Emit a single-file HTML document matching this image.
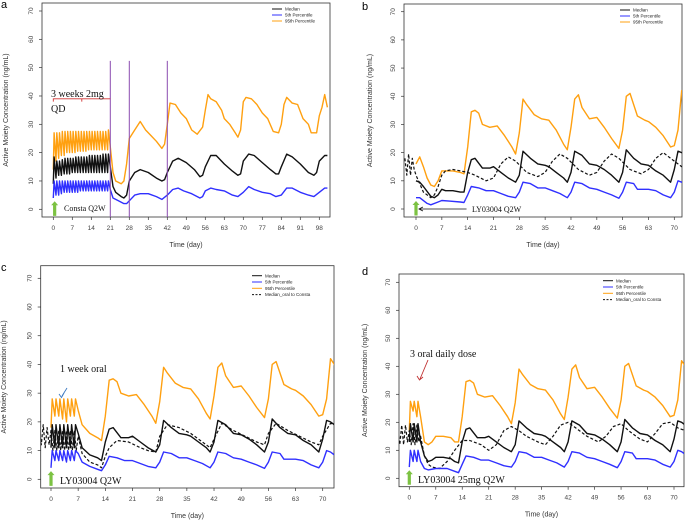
<!DOCTYPE html>
<html><head><meta charset="utf-8"><style>
body{margin:0;background:#fff;}
svg{display:block;font-family:"Liberation Sans",sans-serif;}
</style></head><body>
<svg id="fig" width="685" height="523" viewBox="0 0 685 523"></svg>
<script>
// ---------- DATA ----------
const aOrangePeak=[27,27,27,27.5,27.5,27.5,27.5,27.5,27.5,27.5,27.5,27.5,27.5,27.5,27.5,27.5,27.5,27.5,27.5,27.5,28];
const aOrangeTrough=[14,17,18,19,19,20,20,20,20,20.5,20.5,20.5,20.5,21,21,21,21,21,21,21,21];
const aBlackPeak=[18.5,17,17,17.5,18,18,18,18,18.5,18.5,18.5,18.5,18.5,19,19,19,19,19,19.5,19.5,19.5];
const aBlackTrough=[9,11,12,12,12.5,12.5,12.5,13,13,13,13,13,13,13,13,13,13,13,13,13,13];
const aBluePeak=[10,10,10,10,10,10,10,10,10,10,10,10,10,10,10,10,10,10,10,10,10];
const aBlueTrough=[4,5,5,5.5,6,6,6,6,6,6,6.5,6.5,6.5,6.5,6.5,6.5,6.5,6.5,6.5,6.5,6.5];
const aOrangeDays=[21,22,23,25,26,27,28,30,32,34,36,38,40,41,42,43,45,47,49,51,53,55,56,57,58,60,62,63,65,67,68,69,70,71,73,75,77,79,81,83,84,85,86,88,90,92,94,95,97,98,99,100,101];
const aOrangeVals=[22,13,10,9,10,16,25,28,31,28,26,24,21.5,23,30,37.5,37,34,32,28,26.5,29,35,40.5,39,38,35,32,30,27,25.5,28,38,39.5,39,37,34,32,27.5,27,30,37,39.5,37.5,37,32,30,27,27,33,36,40.5,36];
const aBlackDays=[21,22,23,25,26,27,28,30,32,35,38,40,41,42,44,46,49,52,54,55,56,58,60,63,66,68,69,70,72,74,77,80,82,83,84,86,88,91,94,96,97,98,100,101];
const aBlackVals=[15,8,6,4.5,4,5,10,13,14,13,11,10,10.5,13,17,18,16.5,14,11.5,12,15,19,19,16,13.5,12,12.5,17,19.5,19,16.5,14,12.5,12.5,15,19.5,18.5,16,13,12,13,17,19,19];
const aBlueDays=[21,22,24,26,27,28,30,32,35,38,40,42,44,46,48,51,54,55,56,58,60,63,66,68,70,72,74,77,80,82,84,86,88,91,94,96,98,100,101];
const aBlueVals=[7,4,3,2,2,3,5,5.5,5.5,4.5,3.5,5,7,7.5,6.5,5.5,4,4.5,6.5,7.5,7,6.5,5,4.5,6,8,7,6,5.5,4.5,5,7.5,7.5,6,5,4.5,6,7.5,7.5];
const aDoseLines=[21,28,42];

// LAI (day >= 14) common to panels b, c, d
const laiOrangeDays=[14,15,16,17,18,20,22,24,26,27,28,29,30,32,34,36,38,40,41,42,43,44,45,47,49,51,53,55,56,57,58,60,62,63,65,67,69,70,71,72,73,73.5];
const laiOrangeVals=[22,34.5,35,34,30,29,29.5,26,22,19.5,27,39,37,33.5,32,31.5,28,23,21,29,39,40.5,36,32,32.5,29,25,21.5,28,40,41,33,31.5,31,29,26,22,22.5,28,42,40,37.5];
const laiBlackDays=[14,15,16,18,20,21,23,25,27,28,29,31,33,35,36,38,40,41,42,43,45,47,49,51,53,55,56,57,59,61,63,65,67,69,70,71,72,73];
const laiBlackVals=[13,17.5,18,14.5,14.5,15,13,11,9.5,12,20.5,18,16,15.5,15,13,11,9.5,13,20.5,19,16,15.5,14,12,9.5,13,21,18,16,15.5,13.5,12,9.5,14,20.5,20,19];
const laiBlueDays=[14,15,17,19,21,23,25,27,28,29,31,33,35,37,39,41,42,43,45,47,49,51,53,55,56,57,59,60,63,65,67,69,70,71,72,73];
const laiBlueVals=[5,8,7.5,6.5,6.5,5.5,4.5,4,6,9.5,9,7.5,7.5,6.5,5.5,4,6,9.5,9,7.5,7,6,5,3.8,6,9.5,9,7,7,6.5,5,4,6,10,9.5,8.5];

// panel b early
const bOrangeDays=[0,1,2,3,4,5,6,7,8,10,12,13];
const bOrangeVals=[16,18.5,15,11,8.5,8,10,13.5,13.5,13.5,13,12.5];
const bBlackDays=[0,1,2,4,5,6,7,8,10,12,13];
const bBlackVals=[10,9.5,8,4.5,4,5,7,6.5,6.5,6,6];
const bBlueDays=[0,1,3,4,6,7,9,12,13];
const bBlueVals=[4,4,2,1.5,2.5,3,2.8,2.5,2.3];
const bDashDays=[-3,-2.5,-2,-1.5,-1,-0.5,0,2,4,5,6,7,8,10,12,14,16,19,21,23,25,27,30,33,35,37,39,41,44,47,49,51,53,55,58,61,63,65,67,69,72,73];
const bDashVals=[18,12,19.5,12,18,14,12,6,4,5,8,12,13.5,14,13.5,13,12,10,11,16,18.5,17,13,11.5,13,17,19.5,18,14,12,13,17,19.5,18,14,12.5,14,18,20,18,15,14];

// panel c early
const cOrangePeak=[28,28,28,28,28,28,28];
const cOrangeTrough=[18,22,22,21,20,22,22];
const cBlackPeak=[19,19,19,19,19,19,19];
const cBlackTrough=[11,11,11,11,11,11,11];
const cBluePeak=[10,10,10,10,10,10,10];
const cBlueTrough=[4,6.5,6.5,6.5,6,6.5,6.5];
const cOrangeDays=[7,8,10,12,13];
const cOrangeVals=[24,19,16,14.5,13.5];
const cBlackDays=[7,8,10,12,13];
const cBlackVals=[16,11,8.5,7.5,6.5];
const cBlueDays=[7,8,10,12,13];
const cBlueVals=[9,6,4.5,3.5,3];
const cDashDays=[-3,-2.5,-2,-1.5,-1,-0.5,0,0.5,1,1.5,2,2.5,3,3.5,4,4.5,5,5.5,6,6.5,7,8,10,12,13,14,15,17,20,23,25,27,28,30,33,36,39,41,42,44,47,50,53,55,56,58,61,64,67,69,70,72,73];
const cDashVals=[18,12,19,11,18,12,17,10,17,10,17,10,17,10,17,10,17,10,17,10,15,9,6,5,4,8,11,13.5,13,11,10,9.5,15,19,18,16,13,11,14,19.5,17,15,13,12,16,19.5,17,15,13,12,15,19.5,19];

// panel d early
const dOrangePeak=[27.5,27.5,27.5];
const dOrangeTrough=[17,24,22];
const dBlackPeak=[19.5,19.5,19.5];
const dBlackTrough=[13,13,13];
const dBluePeak=[10,10,10];
const dBlueTrough=[4,6,6];
const dOrangeDays=[3,4,5,6,7,9,11,12,13];
const dOrangeVals=[22,13,12,13,15,15,14.5,13,13];
const dBlackDays=[3,4,5,6,7,9,11,12,13];
const dBlackVals=[13,8,6,6.5,7.5,7.5,7,6,5.5];
const dBlueDays=[3,4,5,7,10,12,13];
const dBlueVals=[6,3.5,3,3.5,3.5,2.5,2];
const dDashDays=[-3,-2.5,-2,-1.5,-1,-0.5,0,0.5,1,1.5,2,2.5,3,4,5,6,8,10,12,14,16,19,21,23,25,27,29,31,34,36,38,40,42,44,47,50,52,54,56,58,61,63,65,67,69,71,73];
const dDashVals=[17,12,19,12,19,13,17,12,19.5,12,19,13,15,8,5,4,3.5,6,10,13.5,13.5,12,10,12,17,18.5,17,15,13,12,15,19,20,18,15,13,15,18.5,19.5,17,14,13,16,19.5,20,18,17];

const yTicks=[0,10,20,30,40,50,60,70];
const aXTicks=[0,7,14,21,28,35,42,49,56,63,70,77,84,91,98];
const bXTicks=[0,7,14,21,28,35,42,49,56,63,70];

// ---------- DRAWING ----------
const NS='http://www.w3.org/2000/svg';
const svg=document.getElementById('fig');
function mk(tag,attrs,parent,text){const e=document.createElementNS(NS,tag);for(const k in attrs)e.setAttribute(k,attrs[k]);if(text!==undefined)e.textContent=text;(parent||svg).appendChild(e);return e;}
const C={black:'#111',blue:'#3030ff',orange:'#ffa010',purple:'#8a4cb0'};

function zig(peak,trough){const d=[],v=[];for(let i=0;i<peak.length;i++){d.push(i);v.push(trough[i]);d.push(i+0.3);v.push(peak[i]);}return [d,v];}

function panel(id,cfg){
  const g=mk('g',{}, svg);
  
  
  const [L,T,R,B]=cfg.box;
  const sx=d=>cfg.x0+(d)*(cfg.x1-cfg.x0)/cfg.dref;
  const sy=v=>cfg.y0+v*(cfg.y70-cfg.y0)/70;
  const cp=mk('clipPath',{id:'clip'+id},g);mk('rect',{x:L,y:T,width:R-L,height:B-T},cp);
  const box=mk('rect',{x:L,y:T,width:R-L,height:B-T,fill:'none',stroke:'#333','stroke-width':0.8},g);
  
  const lab=mk('text',{x:cfg.lab[0],y:cfg.lab[1],'font-size':11,fill:'#000'},g,id);
  
  const yax=mk('g',{},g);
  yTicks.forEach(t=>{const y=sy(t);mk('line',{x1:L,x2:L-3,y1:y,y2:y,stroke:'#333','stroke-width':0.7},yax);
    const tx=mk('text',{x:L-9,y:y,'font-size':6.5,fill:'#444','text-anchor':'middle',transform:`rotate(-90 ${L-9} ${y})`},yax,t);
    });
  const yt=mk('text',{x:cfg.ytx,y:(T+B)/2,'font-size':7,fill:'#333','text-anchor':'middle',transform:`rotate(-90 ${cfg.ytx} ${(T+B)/2})`},yax,'Active Moiety Concentration (ng/mL)');
  
  const xax=mk('g',{},g);
  cfg.xticks.forEach(t=>{const x=sx(t);mk('line',{x1:x,x2:x,y1:B,y2:B+3,stroke:'#333','stroke-width':0.7},xax);
    const tx=mk('text',{x:x,y:B+13,'font-size':6.5,fill:'#444','text-anchor':'middle'},xax,t);
    });
  const xt=mk('text',{x:(L+R)/2,y:B+30,'font-size':7,fill:'#333','text-anchor':'middle'},xax,'Time (day)');
  
  const sg=mk('g',{'clip-path':`url(#clip${id})`},g);
  cfg.series.forEach(s=>{
    const pts=s.d.map((d,i)=>sx(d).toFixed(1)+','+sy(s.v[i]).toFixed(1)).join(' ');
    const p=mk('polyline',{points:pts,fill:'none',stroke:C[s.c],'stroke-width':s.w||1.4,'stroke-linejoin':'round','stroke-dasharray':s.dash||'none'},sg);
    
  });
  // legend
  const lg=mk('g',{},g);
  cfg.legend.items.forEach((it,i)=>{const y=cfg.legend.y+i*cfg.legend.dy;
    mk('line',{x1:cfg.legend.x,x2:cfg.legend.x+10,y1:y,y2:y,stroke:C[it[1]],'stroke-width':1,'stroke-dasharray':it[2]||'none'},lg);
    const t=mk('text',{x:cfg.legend.x+13,y:y+1.6,'font-size':4.5,fill:'#222'},lg,it[0]);
    });
  return {g,sx,sy};
}
function greenArrow(p,day,g){const x=p.sx(day),y1=p.sy(-2.3),y2=p.sy(2.5);
  const a=mk('path',{d:`M${x-1.6},${y1} L${x+1.6},${y1} L${x+1.6},${y2+3} L${x+3.5},${y2+3} L${x},${y2-1} L${x-3.5},${y2+3} L${x-1.6},${y2+3} Z`,fill:'#7cc242'},g);
  }
function txt(g,x,y,s,size,name){const t=mk('text',{x,y,'font-size':size,fill:'#111','font-family':'Liberation Serif, serif'},g,s);return t;}

const leg3=[['Median','black'],['5th Percentile','blue'],['95th Percentile','orange']];
const leg4=leg3.concat([['Median_oral to Consta','black','2,1.5']]);

// Panel a
const aZO=zig(aOrangePeak,aOrangeTrough),aZK=zig(aBlackPeak,aBlackTrough),aZB=zig(aBluePeak,aBlueTrough);
const pa=panel('a',{box:[42,3,330,217],x0:53.3,x1:319.3,dref:98,y0:209.3,y70:11,xticks:aXTicks,lab:[1,8],ytx:8,
  legend:{x:272,y:9,dy:6,items:leg3},
  series:[{name:'p95-line',c:'orange',d:aZO[0].concat(aOrangeDays),v:aZO[1].concat(aOrangeVals)},
          {name:'median-line',c:'black',d:aZK[0].concat(aBlackDays),v:aZK[1].concat(aBlackVals)},
          {name:'p5-line',c:'blue',d:aZB[0].concat(aBlueDays),v:aZB[1].concat(aBlueVals)}]});
aDoseLines.forEach(d=>{const l=mk('line',{x1:pa.sx(d),x2:pa.sx(d),y1:pa.sy(52.4),y2:217,stroke:C.purple,'stroke-width':1},pa.g);});
mk('path',{d:`M${pa.sx(0)},${pa.sy(38)} L${pa.sx(0)},${pa.sy(39)} L${pa.sx(21)},${pa.sy(39)} M${pa.sx(10.5)},${pa.sy(39)} L${pa.sx(10.5)},${pa.sy(38)}`,stroke:'#d03030','stroke-width':0.9,fill:'none'},pa.g);
txt(pa.g,51,97,'3 weeks 2mg',10,'annotation-oral');
txt(pa.g,51,112,'QD',10,'annotation-qd');
txt(pa.g,64,211,'Consta Q2W',8,'annotation-consta');
greenArrow(pa,0.5,pa.g);

// Panel b
const pb=panel('b',{box:[404,4,682,217],x0:416,x1:674.3,dref:70,y0:209,y70:11.7,xticks:bXTicks,lab:[362,10],ytx:372,
  legend:{x:620,y:10,dy:6,items:leg3},
  series:[{name:'p95-line',c:'orange',d:bOrangeDays.concat(laiOrangeDays),v:bOrangeVals.concat(laiOrangeVals)},
          {name:'median-oral-to-consta-line',c:'black',d:bDashDays,v:bDashVals,dash:'3,2',w:1.2},
          {name:'median-line',c:'black',d:bBlackDays.concat(laiBlackDays),v:bBlackVals.concat(laiBlackVals)},
          {name:'p5-line',c:'blue',d:bBlueDays.concat(laiBlueDays),v:bBlueVals.concat(laiBlueVals)}]});
greenArrow(pb,0,pb.g);
mk('path',{d:`M${pb.sx(13.7)},${pb.sy(0)} L${pb.sx(0.8)},${pb.sy(0)} M${pb.sx(0.8)+4},${pb.sy(0)-2} L${pb.sx(0.8)},${pb.sy(0)} L${pb.sx(0.8)+4},${pb.sy(0)+2}`,stroke:'#111','stroke-width':0.8,fill:'none'},pb.g);
txt(pb.g,472,212,'LY03004 Q2W',8,'annotation-ly03004');

// Panel c
const cZO=zig(cOrangePeak,cOrangeTrough),cZK=zig(cBlackPeak,cBlackTrough),cZB=zig(cBluePeak,cBlueTrough);
const pc=panel('c',{box:[40.7,265.7,334,488],x0:51,x1:322.7,dref:70,y0:479.3,y70:278.3,xticks:bXTicks,lab:[1,271],ytx:6,
  legend:{x:252,y:275.7,dy:6.3,items:leg4},
  series:[{name:'p95-line',c:'orange',d:cZO[0].concat(cOrangeDays,laiOrangeDays),v:cZO[1].concat(cOrangeVals,laiOrangeVals)},
          {name:'median-oral-to-consta-line',c:'black',d:cDashDays,v:cDashVals,dash:'3,2',w:1.2},
          {name:'median-line',c:'black',d:cZK[0].concat(cBlackDays,laiBlackDays),v:cZK[1].concat(cBlackVals,laiBlackVals)},
          {name:'p5-line',c:'blue',d:cZB[0].concat(cBlueDays,laiBlueDays),v:cZB[1].concat(cBlueVals,laiBlueVals)}]});
txt(pc.g,60,372,'1 week oral',10,'annotation-oral');
mk('path',{d:'M67,388 L62,396 M59,394 L61.5,397.5 L64,393',stroke:'#3a78c0','stroke-width':0.9,fill:'none'},pc.g);
greenArrow(pc,0,pc.g);
txt(pc.g,60,484,'LY03004 Q2W',10,'annotation-ly03004');

// Panel d
const dZO=zig(dOrangePeak,dOrangeTrough),dZK=zig(dBlackPeak,dBlackTrough),dZB=zig(dBluePeak,dBlueTrough);
const pd=panel('d',{box:[399,274,684,486.7],x0:409.3,x1:674,dref:70,y0:478.3,y70:282.3,xticks:bXTicks,lab:[362,275],ytx:367,
  legend:{x:603,y:280.7,dy:6.3,items:leg4},
  series:[{name:'p95-line',c:'orange',d:dZO[0].concat(dOrangeDays,laiOrangeDays),v:dZO[1].concat(dOrangeVals,laiOrangeVals)},
          {name:'median-oral-to-consta-line',c:'black',d:dDashDays,v:dDashVals,dash:'3,2',w:1.2},
          {name:'median-line',c:'black',d:dZK[0].concat(dBlackDays,laiBlackDays),v:dZK[1].concat(dBlackVals,laiBlackVals)},
          {name:'p5-line',c:'blue',d:dZB[0].concat(dBlueDays,laiBlueDays),v:dZB[1].concat(dBlueVals,laiBlueVals)}]});
txt(pd.g,410,357,'3 oral daily dose',10,'annotation-oral');
mk('path',{d:'M428,360 L420,379 M417,376 L419.5,380 L423,377',stroke:'#c03030','stroke-width':0.9,fill:'none'},pd.g);
greenArrow(pd,0,pd.g);
txt(pd.g,418,483,'LY03004 25mg Q2W',10,'annotation-ly03004');
</script>
</body></html>
